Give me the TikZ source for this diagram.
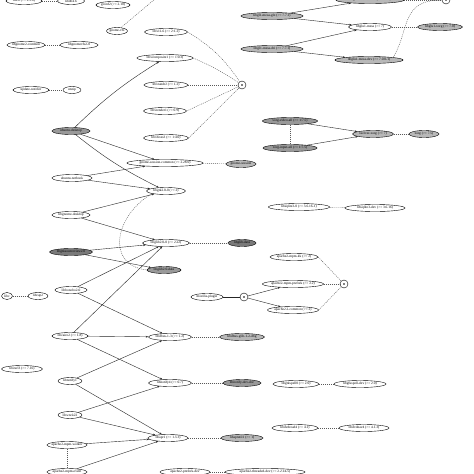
\documentclass[tikz,border=0pt]{standalone}
\usepackage{fontspec}
\setmainfont{Liberation Serif}
\usetikzlibrary{shapes.geometric,arrows.meta}
\begin{document}
\begin{tikzpicture}[x=1pt,y=-1pt,
 lab/.style={font=\fontsize{3.5}{4}\selectfont, inner sep=0pt},
 pk/.style 2 args={ellipse, draw=black, line width=0.4pt, fill=white, minimum width=#1, minimum height=7pt, inner sep=0pt, label={[lab]center:#2}},
 ga/.style={fill=black!28},
 gb/.style={fill=black!40},
 gc/.style={fill=black!52},
 dep/.style={draw=black!85, line width=0.4pt, -{Stealth[length=2.6pt,width=1.8pt]}},
 alt/.style={draw=black!65, line width=0.4pt, dash pattern=on 1pt off 1pt},
 orc/.style={circle, draw=black, line width=0.4pt, fill=white, minimum size=8pt, inner sep=0pt},
]
\useasboundingbox[fill=white] (0,0) rectangle (474,474);
% top left
\node[pk={36pt}{libc6 (>= 2.3.6)}] (n1) at (24,1) {};
\node[pk={27pt}{libdb4.6}] (n2) at (71,1) {};
\node[pk={34pt}{gconf2 (>= 2.10)}] (n3) at (113,5) {};
\node[pk={21pt}{gnome-vfs}] (n4) at (117,31) {};
\coordinate (n4up) at (168,-12);
\node[pk={38pt}{libgnome2-common}] (n5) at (26,45) {};
\node[pk={38pt}{libgnomevfs2-0}] (n6) at (79,45) {};
\node[pk={36pt}{update-notifier}] (n7) at (31,90) {};
\node[pk={18pt}{unzip}] (n8) at (72,90) {};
% column of x libs
\node[pk={43pt}{libx11-6 (>= 2:1.2)}] (c1) at (166,32) {};
\node[pk={56pt}{libxcomposite1 (>= 1:0.3)}] (c2) at (165,58) {};
\node[pk={44pt}{libxrandr2 (>= 1.2)}] (c3) at (166,85) {};
\node[pk={43pt}{libxrender1 (>= 0.9)}] (c4) at (165,111) {};
\node[pk={45pt}{libxfixes3 (>= 1:4.0)}] (c5) at (166,138) {};
\node[orc] (X1) at (242,85) {};
% top right
\node[pk={62pt}{libgl1-mesa-glx (>= 7.7.1)}, ga] (A) at (272,16) {};
\node[pk={62pt}{libgl1-mesa-dri (>= 7.7.1)}, ga] (B) at (272,49) {};
\node[pk={68pt}{libgl1-mesa-swx11 (>= 7.7.1)}, ga] (T) at (370,0) {};
\node[pk={43pt}{libglu1-mesa (>= 7)}] (W) at (370,27) {};
\node[pk={45pt}{libglu1-xorg (>= 7.0)}, ga] (G1) at (440,27) {};
\node[pk={68pt}{libglu1-mesa-dev (>= 7.0.0-1)}, ga] (C) at (369,60) {};
\node[orc] (X2) at (446,0) {};
% middle right
\node[pk={55pt}{xorg-video-all (>= 1:7.5)}, gb] (P) at (290,121) {};
\node[pk={54pt}{xorg-input-all (>= 1:7.5)}, gb] (Q) at (290,148) {};
\node[pk={41pt}{xserver-xorg (>= 7)}, ga] (R) at (373,134) {};
\node[pk={30pt}{xorg (>= 7.5)}, ga] (S) at (424,134) {};
\node[pk={61pt}{libsqlite3-0 (>= 3.6.16-1)}] (U1) at (299,207) {};
\node[pk={60pt}{libsqlite3-dev (>= 3.6.16)}] (U2) at (375,208) {};
% central column
\node[pk={76pt}{gnome-session-common (>= 2.28.0)}] (XN) at (165,163) {};
\node[pk={30pt}{gnome-session}, ga] (XG) at (241,164) {};
\node[pk={39pt}{libgtk2.0-0 (>= 2)}] (N191) at (166,191) {};
\node[pk={47pt}{libglib2.0-0 (>= 2.22)}] (N243) at (166,243) {};
\node[pk={28pt}{libglib-data}, gc] (G243) at (242,243) {};
\node[pk={34pt}{libglib2.0-data}, gb] (N270) at (164,270) {};
\node[pk={43pt}{libdbus-1-3 (>= 1.2)}] (N337) at (170,337) {};
\node[pk={45pt}{libdbus-glib-1-2-dbg}, ga] (G337) at (242,337) {};
\node[pk={43pt}{libnotify4 (>= 0.7)}] (N383) at (170,383) {};
\node[pk={38pt}{libnotify-dev-doc}, gb] (G383) at (242,383) {};
\node[pk={40pt}{libapr1 (>= 1.3.3)}] (N438) at (168,438) {};
\node[pk={42pt}{libaprutil1 (>= 1)}, ga] (G438) at (242,438) {};
% left column
\node[pk={38pt}{ubuntu-desktop}, gb] (L1) at (71,131) {};
\node[pk={40pt}{ubuntu-netbook}] (L2) at (72,178) {};
\node[pk={38pt}{libgnome-desktop}] (L3) at (71,215) {};
\node[pk={43pt}{libgtksourceview2.0}, gc] (L4) at (71,252) {};
\node[pk={32pt}{libbonobo2-0}] (L5) at (71,290) {};
\node[pk={36pt}{libcairo2 (>= 1.8)}] (L6) at (70,336) {};
\node[pk={24pt}{libnotify1}] (L7) at (70,381) {};
\node[pk={24pt}{libwnck22}] (L8) at (70,415) {};
\node[pk={40pt}{apache2-mpm-worker}] (L9) at (67,445) {};
\node[pk={40pt}{apache2-mpm-event}] (L10) at (67,472) {};
\node[pk={11pt}{libc}] (M1) at (7,296) {};
\node[pk={20pt}{libcap2}] (M2) at (38,296) {};
\node[pk={41pt}{libcurl3 (>= 7.16)}] (M3) at (22,369) {};
% lower middle / right
\node[pk={32pt}{mozilla-plugin}] (K1) at (207,297) {};
\node[orc] (X3) at (244,297) {};
\node[pk={48pt}{apache2-mpm-itk (>= 2)}] (J1) at (294,257) {};
\node[pk={61pt}{apache2-mpm-prefork (>= 2.2)}] (J2) at (293,284) {};
\node[pk={51pt}{apache2.2-common (>= 2)}] (J3) at (293,310) {};
\node[orc] (X4) at (344,284) {};
\node[pk={46pt}{libgtkspell0 (>= 2.0)}] (V1) at (296,384) {};
\node[pk={52pt}{libgtkspell-dev (>= 2.0)}] (V2) at (360,384) {};
\node[pk={46pt}{libdvdread4 (>= 4.1)}] (V3) at (295,428) {};
\node[pk={50pt}{libdvdnav4 (>= 4.1.3)}] (V4) at (364,428) {};
\node[pk={50pt}{apache2-prefork-dev}] (V5) at (185,472) {};
\node[pk={80pt}{apache2-threaded-dev (>= 2.2.14-5)}] (V6) at (265,472) {};
% dots in or-circles
\foreach \c in {X1,X2,X3,X4} \fill (\c) circle (0.8pt);
% dashed links
\draw[alt] (n1) -- (n2);
\draw[alt] (n4) -- (n4up);
\draw[alt] (n5) -- (n6);
\draw[alt] (n7) -- (n8);
\draw[alt] (c1.east) to[bend left=12] (X1);
\draw[alt] (c2.east) to[bend left=5] (X1);
\draw[alt] (c3) -- (X1);
\draw[alt] (c4.east) -- (X1);
\draw[alt] (c5.east) -- (X1);
\draw[alt] (T) -- (X2);
\draw[alt] (W) -- (G1);
\draw[alt] (C.north east) .. controls (410,30) and (400,0) .. (X2.west);
\draw[alt] (P) -- (Q);
\draw[alt] (R) -- (S);
\draw[alt] (U1) -- (U2);
\draw[alt] (XN) -- (XG);
\draw[alt] (N243) -- (G243);
\draw[alt] (N191.south west) .. controls (115,215) and (105,265) .. (N270.west);
\draw[alt] (N337) -- (G337);
\draw[alt] (N383) -- (G383);
\draw[alt] (N438) -- (G438);
\draw[alt] (M1) -- (M2);
\draw[alt] (J1.east) -- (X4);
\draw[alt] (J2) -- (X4);
\draw[alt] (J3.east) -- (X4);
\draw[alt] (V1) -- (V2);
\draw[alt] (V3) -- (V4);
\draw[alt] (V5) -- (V6);
\draw[alt] (L9) -- (L10);
% solid dependencies
\draw[dep] (A) -- (T);
\draw[dep] (A) -- (W);
\draw[dep] (B) -- (W);
\draw[dep] (B) -- (C);
\draw[dep] (P) -- (R);
\draw[dep] (Q) -- (R);
\draw[dep] (L1) to[bend left=6] (c2);
\draw[dep] (L1) -- (XN);
\draw[dep] (L1) to[bend right=6] (N191);
\draw[dep] (L2) -- (XN);
\draw[dep] (L2) -- (N191);
\draw[dep] (L3) -- (N191);
\draw[dep] (L3) -- (N243);
\draw[dep] (L4) -- (N243);
\draw[dep] (L4) -- (N270);
\draw[dep] (L5) -- (N243);
\draw[dep] (L5) -- (N337);
\draw[dep] (L6) -- (N243);
\draw[dep] (L6) -- (N337);
\draw[dep] (L6) -- (N383);
\draw[dep] (L7) -- (N337);
\draw[dep] (L7) -- (N438);
\draw[dep] (L8) -- (N383);
\draw[dep] (L8) -- (N438);
\draw[dep] (L9) -- (N438);
\draw[dep] (L10) -- (N438);
\draw[draw=black!85, line width=0.4pt] (K1) -- (X3);
\draw[dep] (X3) -- (J2);
\draw[dep] (X3) -- (J3);
\end{tikzpicture}
\end{document}
